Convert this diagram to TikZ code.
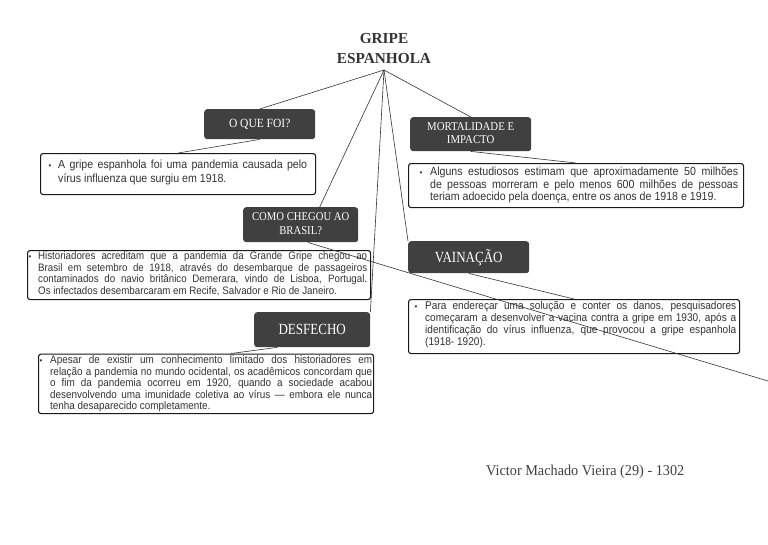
\documentclass[tikz,border=0pt]{standalone}
\usepackage{fontspec}
\setmainfont{Liberation Serif}
\setsansfont{Liberation Sans}
\newfontfamily\bodyfont[FakeStretch=0.9]{Liberation Sans}
\usepackage{graphicx}
\definecolor{darkfill}{HTML}{404040}
\definecolor{bodytext}{HTML}{333333}
\definecolor{linecol}{HTML}{333333}
\newcommand{\jl}[2]{\makebox[#1][s]{#2}}
\begin{document}
\begin{tikzpicture}[x=1pt,y=-1pt,
  darkbox/.style={fill=darkfill, rounded corners=3pt, text=white, inner sep=0pt, anchor=north west, font=\rmfamily},
  textbox/.style={draw=black!90, line width=1.1pt, rounded corners=2.5pt, fill=white, anchor=north west, inner sep=0pt},
  bodytxt/.style={anchor=base west, inner sep=0pt, text=bodytext, font=\bodyfont},
  bulletmark/.style={anchor=base, inner sep=0pt, text=bodytext, font=\sffamily\fontsize{8}{8}\selectfont},
  conn/.style={draw=linecol, line width=0.6pt}
]
\fill[white] (0,0) rectangle (768,544);
\useasboundingbox (0,0) rectangle (768,544);

% root
\node[anchor=base, inner sep=0pt, text=black!80, font=\rmfamily] (root) at (384,43)
  {\fontsize{15.3}{20}\selectfont\bfseries\begin{tabular}[t]{@{}c@{}}GRIPE\\ESPANHOLA\end{tabular}};
\coordinate (hub) at (384,70);

% text boxes
\node[textbox, minimum width=275pt, minimum height=41pt] (t1) at (40,153) {};
\node[textbox, minimum width=335pt, minimum height=44pt] (t2) at (408,163) {};
\node[textbox, minimum width=343pt, minimum height=49pt] (t3) at (27,250) {};
\node[textbox, minimum width=331pt, minimum height=54pt] (t4) at (408,299) {};
\node[textbox, minimum width=335pt, minimum height=59.5pt] (t5) at (38,353.5) {};

% title boxes
\node[darkbox, minimum width=111pt, minimum height=30pt] (oqf) at (204,109)
  {\scalebox{0.92}[1]{\fontsize{12.5}{14}\selectfont O QUE FOI?}};
\node[darkbox, minimum width=121pt, minimum height=34pt] (mort) at (410,117)
  {\scalebox{0.9}[1]{\fontsize{12}{13.5}\selectfont\begin{tabular}{@{}c@{}}MORTALIDADE E\\IMPACTO\end{tabular}}};
\node[darkbox, minimum width=115pt, minimum height=35pt] (como) at (243,207)
  {\scalebox{0.89}[1]{\fontsize{12}{13.5}\selectfont\begin{tabular}{@{}c@{}}COMO CHEGOU AO\\BRASIL?\end{tabular}}};
\node[darkbox, minimum width=121pt, minimum height=32pt] (vain) at (408,241)
  {\scalebox{0.84}[1]{\fontsize{15.5}{17}\selectfont VAINAÇÃO}};
\node[darkbox, minimum width=116pt, minimum height=35pt] (desf) at (254,312)
  {\scalebox{0.84}[1]{\fontsize{15.5}{17}\selectfont DESFECHO}};

% body texts
\node[bulletmark] (b1) at (50,168.5) {\textbullet};
\node[bodytxt] (x1) at (58,168.5) {\parbox[t]{249pt}{\fontsize{11.8}{13.5}\selectfont
  \jl{249pt}{A gripe espanhola foi uma pandemia causada pelo}\\
  vírus influenza que surgiu em 1918.}};

\node[bulletmark] (b2) at (421,175.5) {\textbullet};
\node[bodytxt] (x2) at (430,175.5) {\parbox[t]{308pt}{\fontsize{11.8}{12.5}\selectfont
  \jl{308pt}{Alguns estudiosos estimam que aproximadamente 50 milhões}\\
  \jl{308pt}{de pessoas morreram e pelo menos 600 milhões de pessoas}\\
  teriam adoecido pela doença, entre os anos de 1918 e 1919.}};

\node[bulletmark] (b3) at (30,259.5) {\textbullet};
\node[bodytxt] (x3) at (38,259.5) {\parbox[t]{329pt}{\fontsize{10.8}{11.7}\selectfont
  \jl{329pt}{Historiadores acreditam que a pandemia da Grande Gripe chegou ao}\\
  \jl{329pt}{Brasil em setembro de 1918, através do desembarque de passageiros}\\
  \jl{329pt}{contaminados do navio britânico Demerara, vindo de Lisboa, Portugal.}\\
  Os infectados desembarcaram em Recife, Salvador e Rio de Janeiro.}};

\node[bulletmark] (b4) at (416,309.5) {\textbullet};
\node[bodytxt] (x4) at (425,309.5) {\parbox[t]{311pt}{\fontsize{11.2}{12}\selectfont
  \jl{311pt}{Para endereçar uma solução e conter os danos, pesquisadores}\\
  \jl{311pt}{começaram a desenvolver a vacina contra a gripe em 1930, após a}\\
  \jl{311pt}{identificação do vírus influenza, que provocou a gripe espanhola}\\
  (1918- 1920).}};

\node[bulletmark] (b5) at (41,363.5) {\textbullet};
\node[bodytxt] (x5) at (50,363.5) {\parbox[t]{322pt}{\fontsize{11}{11.5}\selectfont
  \jl{322pt}{Apesar de existir um conhecimento limitado dos historiadores em}\\
  \jl{322pt}{relação a pandemia no mundo ocidental, os acadêmicos concordam que}\\
  \jl{322pt}{o fim da pandemia ocorreu em 1920, quando a sociedade acabou}\\
  \jl{322pt}{desenvolvendo uma imunidade coletiva ao vírus — embora ele nunca}\\
  tenha desaparecido completamente.}};

% author
\node[anchor=base west, inner sep=0pt, text=black!75, font=\rmfamily] (author) at (486,475)
  {\scalebox{0.95}[1]{\fontsize{15}{17}\selectfont Victor Machado Vieira (29) - 1302}};

% connectors
\coordinate (offend) at (768,381);
\draw[conn] (hub) -- (oqf.north);
\draw[conn] (hub) -- (mort.north);
\draw[conn] (hub) -- ([xshift=19pt]como.north);
\draw[conn] (hub) -- (vain.north west);
\draw[conn] (hub) -- (desf.north east);
\draw[conn] (oqf.south) -- (t1.north);
\draw[conn] (mort.south) -- (t2.north);
\draw[conn] ([xshift=7pt]como.south) -- (offend);
\draw[conn] (vain.south) -- (t4.north);
\draw[conn] ([xshift=-35pt]desf.south) -- ([xshift=25pt]t5.north);
\end{tikzpicture}
\end{document}
